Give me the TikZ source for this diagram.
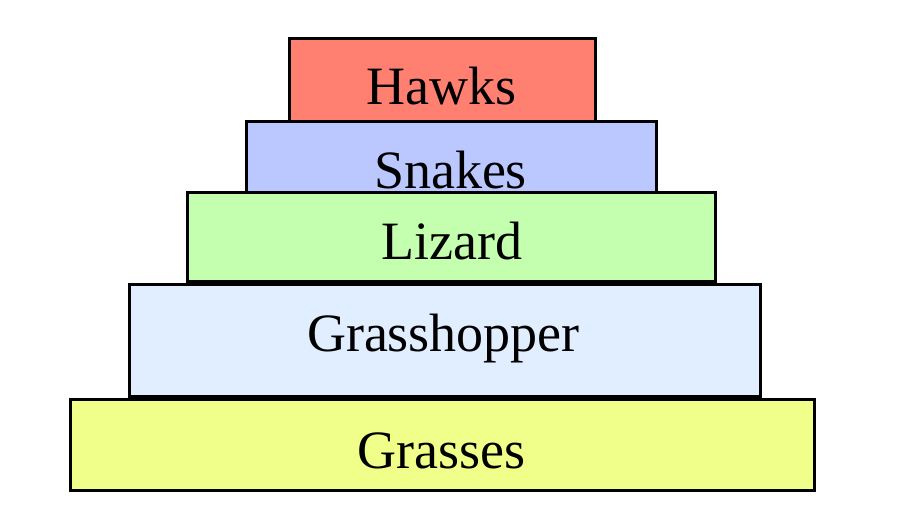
\documentclass[tikz,border=0pt]{standalone}
\usepackage{fontspec}
\setmainfont{Liberation Serif}
\definecolor{hawkc}{HTML}{FF8070}
\definecolor{snakec}{HTML}{BBC8FF}
\definecolor{lizardc}{HTML}{C3FFAF}
\definecolor{hopperc}{HTML}{E0EEFF}
\definecolor{grassc}{HTML}{EFFF8A}
\tikzset{
  level/.style={draw=black, line width=3pt},
  lbl/.style={anchor=base, inner sep=0pt, font=\fontsize{54}{60}\selectfont}
}
\begin{document}
\begin{tikzpicture}[x=1pt,y=1pt]
\useasboundingbox (0,0) rectangle (902,530);
% boxes (y measured from top of image: y = 530 - py)
\path[level, fill=grassc]  (70.5,{530-399.5}) rectangle (814.5,{530-491});
\path[level, fill=hopperc] (129.5,{530-284.5}) rectangle (760.5,{530-396.5});
\path[level, fill=lizardc] (187.5,{530-193}) rectangle (715.5,{530-282});
\path[level, fill=snakec]  (246,{530-122}) rectangle (656.5,{530-193});
\path[level, fill=hawkc]   (289.5,{530-39}) rectangle (595,{530-122});
% labels
\node[lbl] (hawks)  at (441.5,{530-105}) {Hawks};
\node[lbl] (snakes) at (450.5,{530-188.3}) {Snakes};
\node[lbl] (lizard) at (452,{530-259.3}) {Lizard};
\node[lbl] (hopper) at (443.5,{530-351.7}) {Grasshopper};
\node[lbl] (grass)  at (441.5,{530-468.3}) {Grasses};
\end{tikzpicture}
\end{document}
